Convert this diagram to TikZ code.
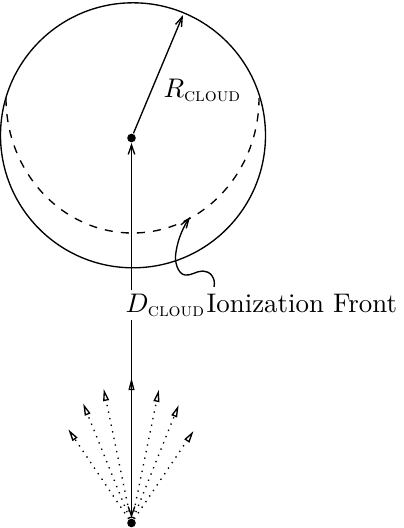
\documentclass[tikz,border=0pt]{standalone}
\usepackage{amsmath}
\usetikzlibrary{positioning}
\usetikzlibrary{arrows.meta}

\begin{document}
\begin{tikzpicture}[x=0.3717pt, y=-0.3717pt, line width=0.5pt,
        dotnode/.style={circle, fill=black, inner sep=0pt, minimum size=3.2pt},
        stickarrow/.style={-{Straight Barb[length=3.5pt,width=2.4pt]}},
        rayarrow/.style={dotted, -{Triangle[open,length=4.5pt,width=2.2pt]}},
        labelnode/.style={inner sep=0pt}]
            \useasboundingbox (0,0) rectangle (403,528);
            %Nodes
            \node[dotnode]   (cloudCenter) at (131.5,138) {};
            \node[dotnode]   (source)      at (131.5,523) {};
            \coordinate (rimPoint)   at (183,15);
            \coordinate (frontPoint) at (190,217);
            \node[labelnode, anchor=base west] (rLabel) at (163,97) {$R_{\textsc{cloud}}$};
            \node[labelnode, inner ysep=1pt, anchor=base west] (dLabel) at (125,312) {$D_{\textsc{cloud}}$};
            \node[labelnode] (frontLabel) [base right=0pt of dLabel] {Ionization Front};
            %Cloud and front
            \draw (133,135.3) circle[radius=132.5];
            \draw[dashed] (6,98) arc[start angle=180, end angle=0, x radius=126.5, y radius=135];
            %Radius and distance
            \draw[stickarrow] (cloudCenter) -- (rimPoint);
            \draw[stickarrow] (source |- dLabel.north) -- (cloudCenter);
            \draw[stickarrow] (source |- dLabel.south) -- (source);
            \draw[stickarrow] ([shift={(8,-6)}]frontLabel.north west) .. controls (216,278) and (210,271) .. (203,271)
                .. controls (196,271) and (191,276) .. (185,275)
                .. controls (178,274) and (174,262) .. (176,252)
                .. controls (178,238) and (184,226) .. (frontPoint);
            %Rays
            \foreach \ang/\len/\n in {-34/113/1, -22/129/2, -11.7/137/3, 0/145/4, 11.6/136/5, 21.8/127/6, 34/111/7} {
                \path (source) ++({\ang-90}:\len) coordinate (rayTip\n);
                \draw[rayarrow] (source) -- (rayTip\n);
            }
        \end{tikzpicture}
\end{document}
